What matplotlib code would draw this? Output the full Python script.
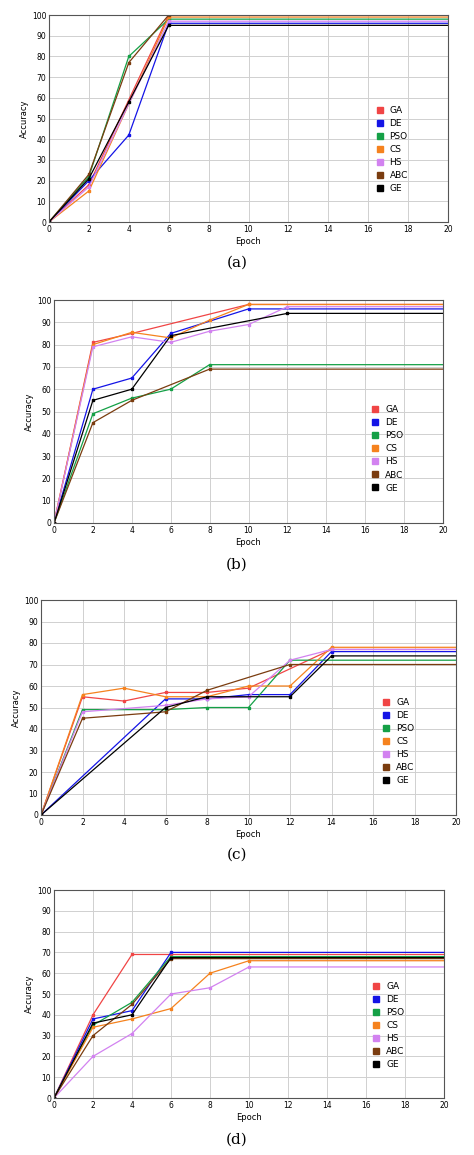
import matplotlib
matplotlib.use("Agg")
import matplotlib.pyplot as plt
from matplotlib.lines import Line2D

names = ["GA", "DE", "PSO", "CS", "HS", "ABC", "GE"]
colors = ["#f04545", "#1414e6", "#14a046", "#f5821e", "#d282f0", "#7a3c0f", "#000000"]

# panel (a)
a_x = {"GA": [0, 2, 6, 20], "DE": [0, 2, 4, 6, 20], "PSO": [0, 2, 4, 6, 20], "CS": [0, 2, 6, 20],
       "HS": [0, 2, 6, 20], "ABC": [0, 2, 4, 6, 20], "GE": [0, 2, 4, 6, 20]}
a_y = {"GA": [0, 18, 100, 100], "DE": [0, 20, 42, 96, 96], "PSO": [0, 22, 80, 98, 98], "CS": [0, 15, 99, 99],
       "HS": [0, 17, 97, 97], "ABC": [0, 23, 77, 100, 100], "GE": [0, 21, 58, 95, 95]}
# panel (b)
b_x = {"GA": [0, 2, 4, 10, 20], "DE": [0, 2, 4, 6, 10, 20], "PSO": [0, 2, 4, 6, 8, 20],
       "CS": [0, 2, 4, 6, 8, 10, 20], "HS": [0, 2, 4, 6, 8, 10, 12, 20], "ABC": [0, 2, 4, 8, 20],
       "GE": [0, 2, 4, 6, 12, 20]}
b_y = {"GA": [0, 81, 85, 98, 98], "DE": [0, 60, 65, 85, 96, 96], "PSO": [0, 49, 56, 60, 71, 71],
       "CS": [0, 80, 85.5, 83, 91, 98, 98], "HS": [0, 79, 83.5, 81, 86, 89, 97, 97], "ABC": [0, 45, 55, 69, 69],
       "GE": [0, 55, 60, 84, 94, 94]}
# panel (c)
c_x = {"GA": [0, 2, 4, 6, 8, 10, 14, 20], "DE": [0, 6, 8, 10, 12, 14, 20], "PSO": [0, 2, 6, 8, 10, 12, 20],
       "CS": [0, 2, 4, 6, 8, 10, 12, 14, 20], "HS": [0, 2, 6, 8, 10, 12, 14, 20], "ABC": [0, 2, 6, 8, 12, 20],
       "GE": [0, 6, 8, 12, 14, 20]}
c_y = {"GA": [0, 55, 53, 57, 57, 59, 77, 77], "DE": [0, 54, 54, 56, 56, 76, 76], "PSO": [0, 49, 49, 50, 50, 72, 72],
       "CS": [0, 56, 59, 55, 55, 60, 60, 78, 78], "HS": [0, 48, 51, 54, 55, 72, 77, 77], "ABC": [0, 45, 48, 58, 70, 70],
       "GE": [0, 50, 55, 55, 74, 74]}
# panel (d)
d_x = {"GA": [0, 2, 4, 6, 20], "DE": [0, 2, 4, 6, 20], "PSO": [0, 2, 4, 6, 20], "CS": [0, 2, 4, 6, 8, 10, 20],
       "HS": [0, 2, 4, 6, 8, 10, 20], "ABC": [0, 2, 4, 6, 20], "GE": [0, 2, 4, 6, 20]}
d_y = {"GA": [0, 40, 69, 69, 69], "DE": [0, 38, 42, 70, 70], "PSO": [0, 35, 46, 68, 68], "CS": [0, 34, 38, 43, 60, 66, 66],
       "HS": [0, 20, 31, 50, 53, 63, 63], "ABC": [0, 30, 45, 67, 67], "GE": [0, 36, 40, 67.5, 67.5]}

panels = [(a_x, a_y, "(a)"), (b_x, b_y, "(b)"), (c_x, c_y, "(c)"), (d_x, d_y, "(d)")]
W, H = 474, 1155
boxes = [(49, 15, 448, 222), (54, 300, 443, 523), (41, 600, 456, 815), (54, 890, 444, 1098)]
caps = [263, 565, 855, 1140]

fig = plt.figure(figsize=(W / 100, H / 100), dpi=100)
for (px, py, lab), (l, t, r, b), cy in zip(panels, boxes, caps):
    ax = fig.add_axes([l / W, 1 - b / H, (r - l) / W, (b - t) / H])
    for n, c in zip(names, colors):
        ax.plot(px[n], py[n], color=c, lw=0.9, marker="s", ms=1.6, markevery=list(range(len(px[n]) - 1)))
    ax.set_xlim(0, 20)
    ax.set_ylim(0, 100)
    ax.set_xticks(range(0, 21, 2))
    ax.set_yticks(range(0, 101, 10))
    ax.grid(True, color="#d0d0d0", lw=0.7)
    ax.tick_params(labelsize=5.5, length=0, pad=2)
    for s in ax.spines.values():
        s.set_color("#555555")
        s.set_linewidth(0.8)
    ax.set_xlabel("Epoch", fontsize=6, labelpad=2)
    ax.set_ylabel("Accuracy", fontsize=6, labelpad=2)
    handles = [Line2D([], [], ls="none", marker="s", ms=4, color=c) for c in colors]
    ax.legend(handles, names, loc="lower right", bbox_to_anchor=(0.92, 0.1), frameon=False,
              fontsize=6.5, handletextpad=0.6, labelspacing=0.45, handlelength=1)
    fig.text(0.5, 1 - cy / H, lab, ha="center", va="center", fontsize=11, family="DejaVu Serif")

fig.savefig("out.png", dpi=100, facecolor="white")
